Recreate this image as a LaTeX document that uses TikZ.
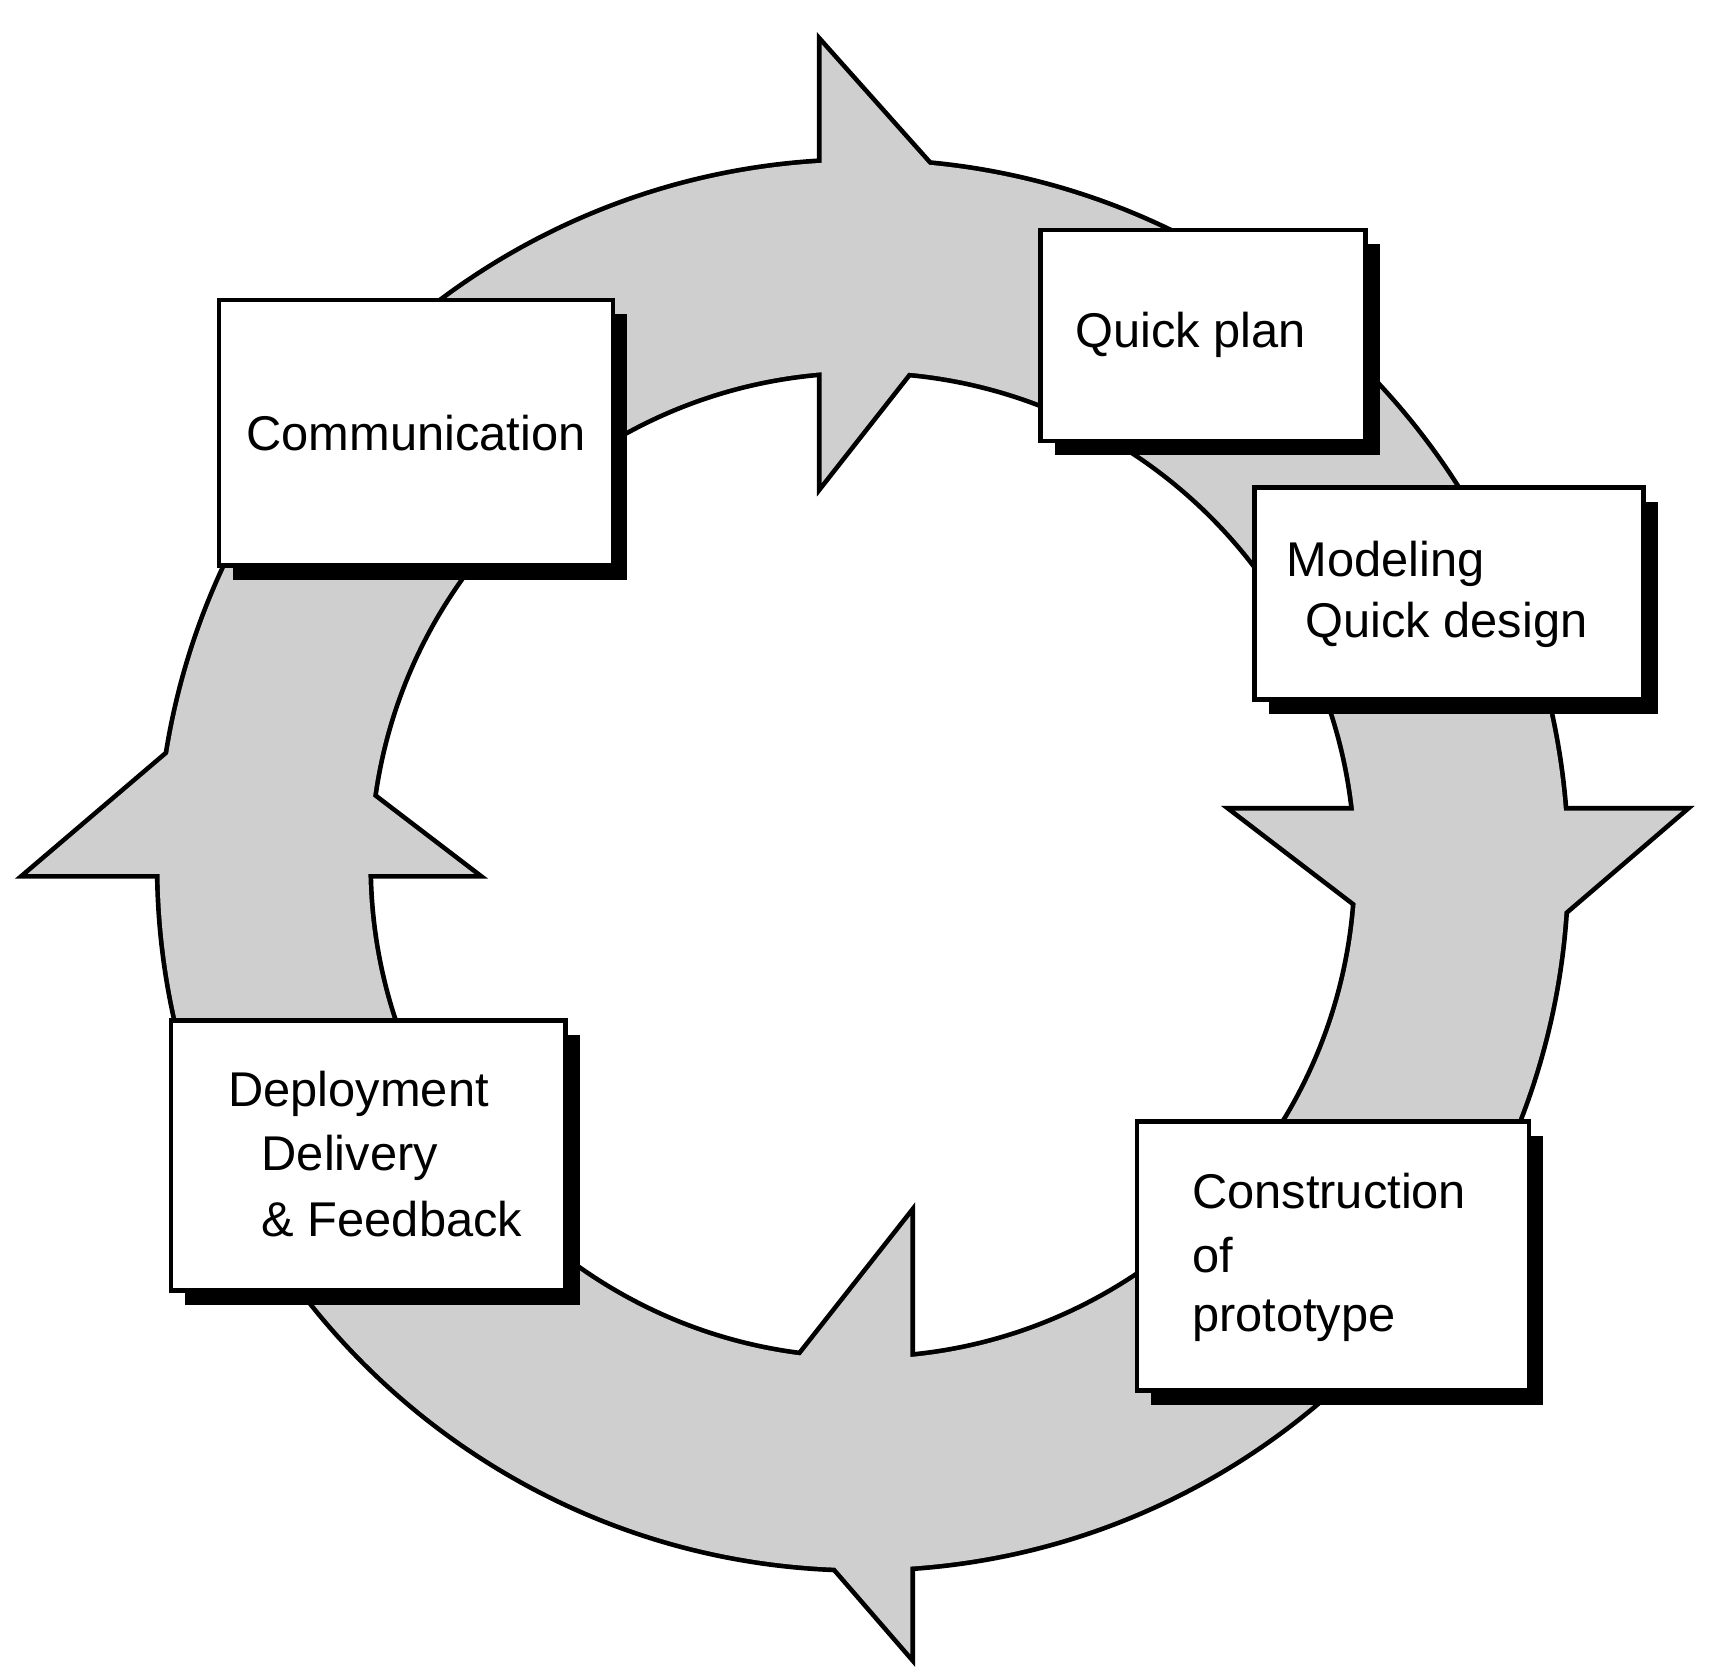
\documentclass[tikz,border=0pt]{standalone}
\usepackage{fontspec}
\setmainfont{Liberation Sans}
\begin{document}
\begin{tikzpicture}[x=0.01cm,y=-0.01cm,
  lw/.style={line width=1.2pt},
  shp/.style={line width=2.4pt,line join=miter},
  grayfill/.style={fill=black!19},
  stagebox/.style={draw,lw,fill=white},
  shadowbox/.style={fill=black},
  lbl/.style={anchor=west,inner sep=0pt,font=\fontsize{12.5}{14}\selectfont}]
\useasboundingbox (0,0) rectangle (1550,1506);
\coordinate (c) at (777,779);
% outlines (double width), then fill covers inner halves
\draw[shp] (c) circle[radius=6.33cm];
\draw[shp] (c) circle[radius=4.45cm];
\draw[shp] (740,40) -- (905,225) -- (740,435) -- cycle;
\draw[shp] (1112,730) -- (1515,730) -- (1325,893) -- cycle;
\draw[shp] (820,1095) -- (657,1302) -- (820,1490) -- cycle;
\draw[shp] (25,787) -- (215,625) -- (427,787) -- cycle;
\fill[grayfill,even odd rule] (c) circle[radius=6.33cm] (c) circle[radius=4.45cm];
\fill[grayfill] (740,40) -- (905,225) -- (740,435) -- cycle;
\fill[grayfill] (1112,730) -- (1515,730) -- (1325,893) -- cycle;
\fill[grayfill] (820,1095) -- (657,1302) -- (820,1490) -- cycle;
\fill[grayfill] (25,787) -- (215,625) -- (427,787) -- cycle;
% boxes
\foreach \xa/\ya/\xb/\yb/\nm in {195/268/550/507/comm, 935/205/1228/395/plan, 1128/437/1478/628/model, 1022/1008/1375/1250/constr, 152/917/507/1160/deploy}{
  \fill[shadowbox] (\xa+15,\ya+15) rectangle (\xb+15,\yb+15);
  \node[stagebox,minimum width={(\xb-\xa)*0.01cm},minimum height={(\yb-\ya)*0.01cm},anchor=north west,inner sep=0pt] (\nm) at (\xa,\ya) {};
}
\node[inner sep=0pt,font=\fontsize{12.5}{14}\selectfont] (tcomm) at (comm.center) {Communication};
\node[lbl] (tplan) at (968,302) {Quick plan};
\node[lbl] (tm1) at (1158,508) {Modeling};
\node[lbl] (tm2) at (1175,563) {Quick design};
\node[lbl] (tc1) at (1073,1073) {Construction};
\node[lbl] (tc2) at (1073,1130) {of};
\node[lbl] (tc3) at (1073,1190) {prototype};
\node[lbl] (td1) at (205,985) {Deployment};
\node[lbl] (td2) at (235,1043) {Delivery};
\node[lbl] (td3) at (235,1098) {\& Feedback};
\end{tikzpicture}
\end{document}
